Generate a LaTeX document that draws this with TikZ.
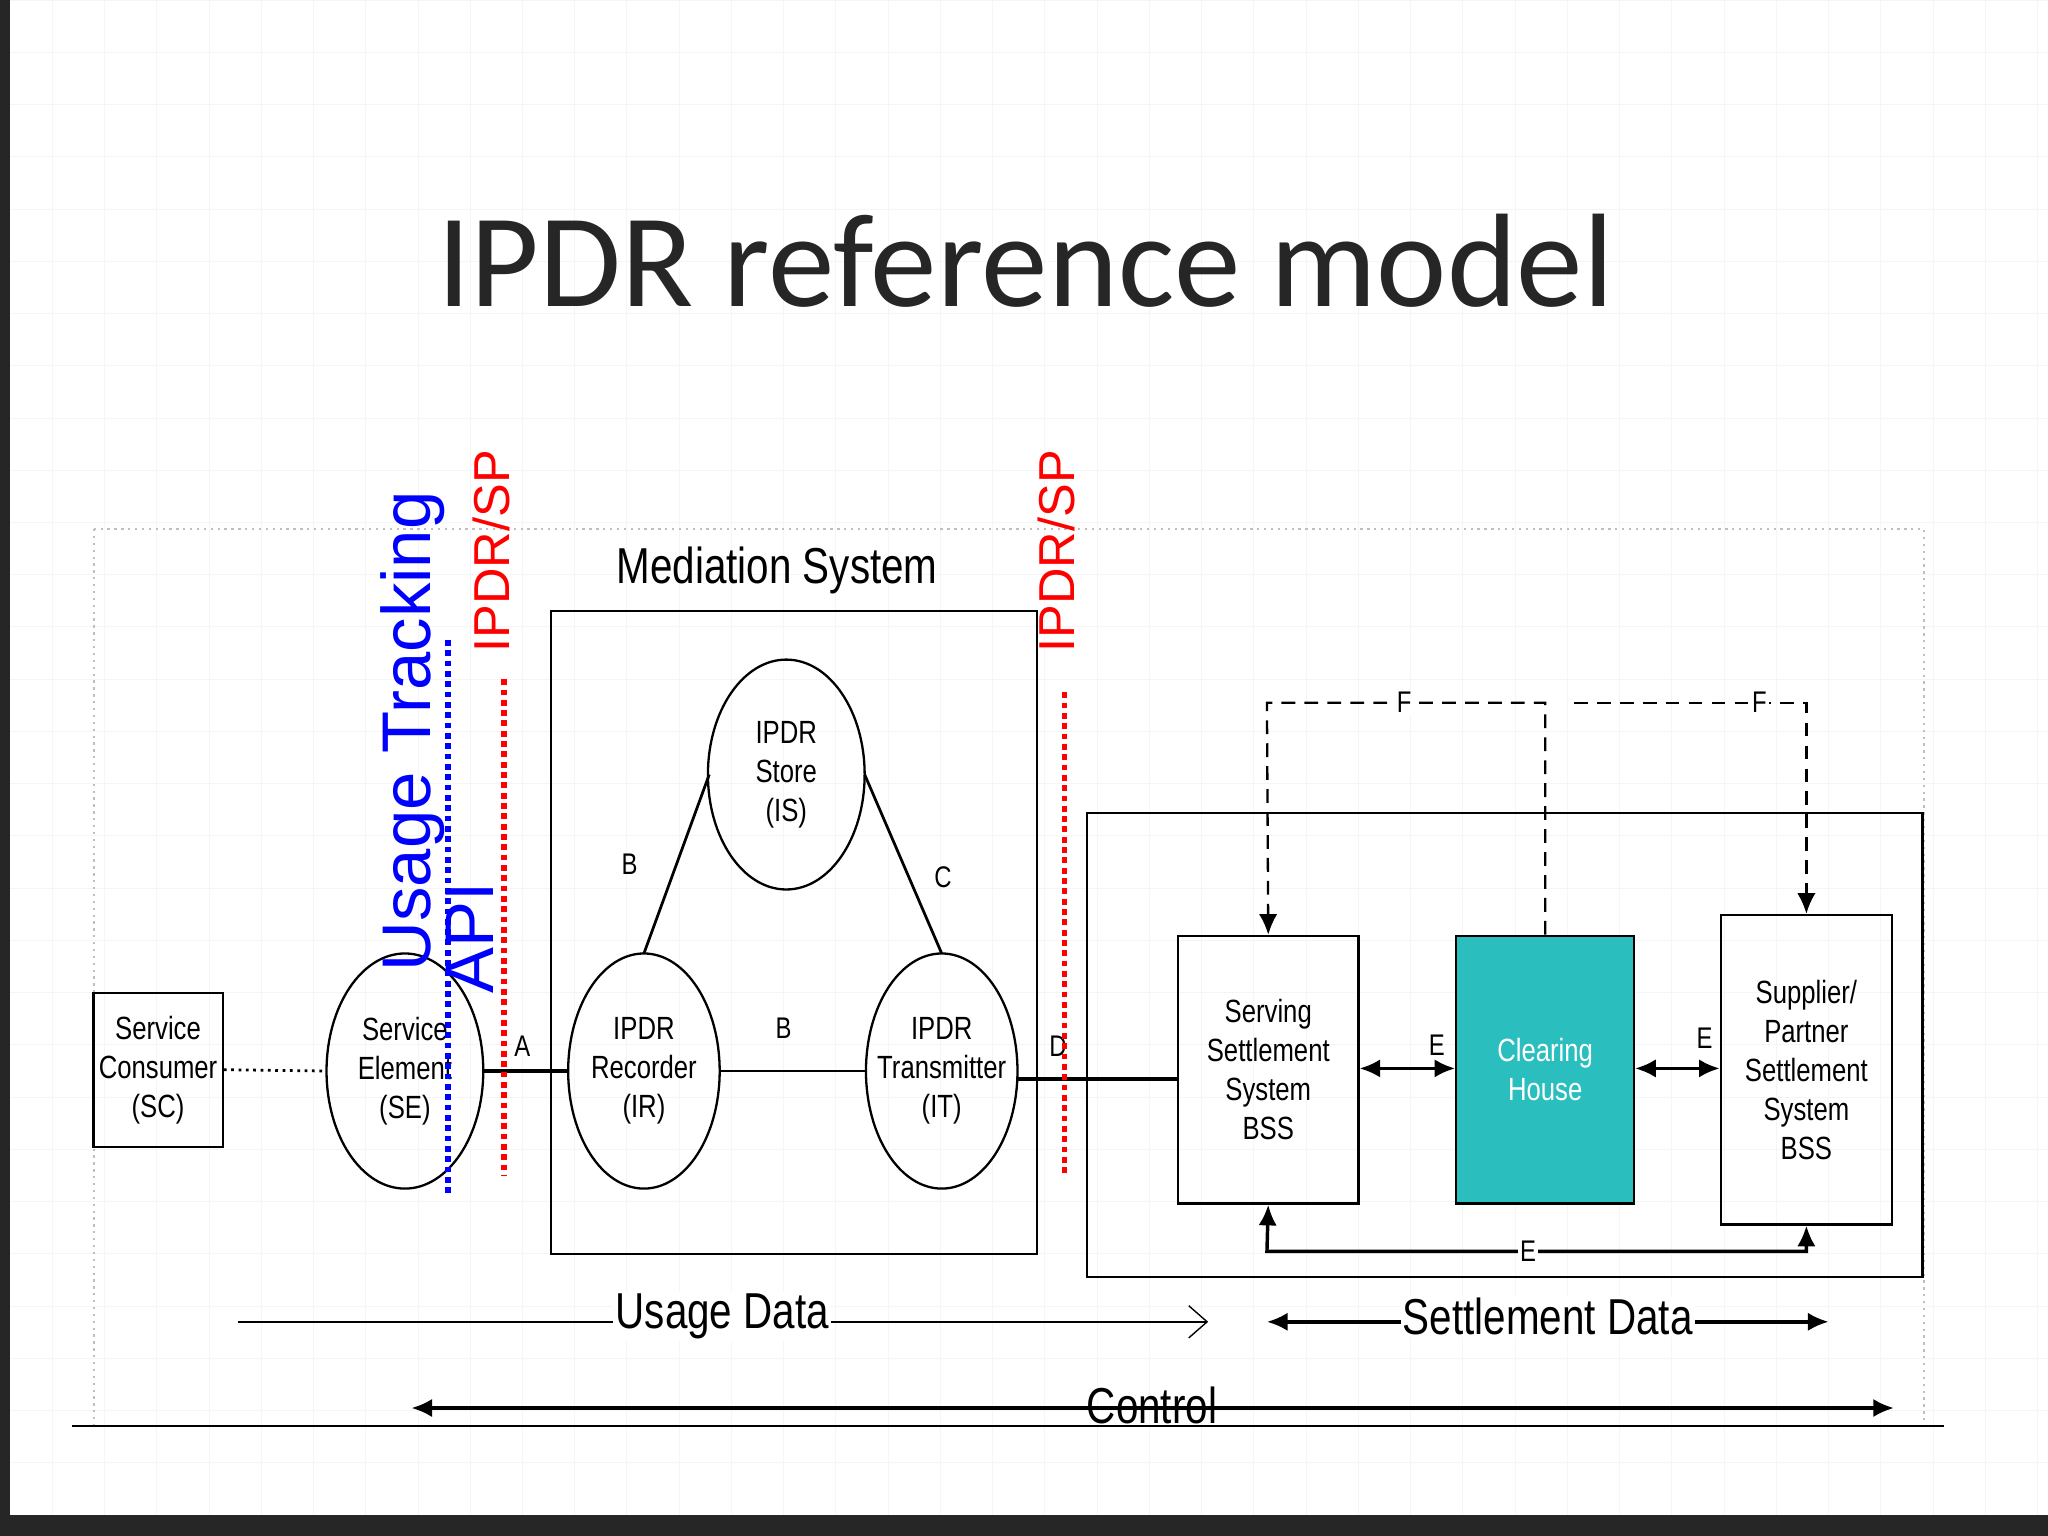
\documentclass[tikz,border=0pt]{standalone}
\usepackage{fontspec}
\setmainfont{Liberation Sans}
\newfontfamily\narrow[FakeStretch=0.8]{Liberation Sans}
\newfontfamily\titlefont{Carlito}
\usetikzlibrary{arrows.meta}
\begin{document}
\begin{tikzpicture}[x=0.02cm,y=-0.02cm,
  lbl/.style={font=\narrow\fontsize{14}{17}\selectfont, align=center, inner sep=0},
  big/.style={font=\narrow\fontsize{22}{24}\selectfont, inner sep=0},
  box/.style={draw, line width=1pt},
  conn/.style={line width=1.5pt},
  bi/.style={line width=1.5pt, {Latex[length=9pt,width=8pt]}-{Latex[length=9pt,width=8pt]}},
  dsh/.style={line width=1pt, dash pattern=on 6pt off 4pt},
  small/.style={font=\narrow\fontsize{13}{15}\selectfont, inner sep=1pt, fill=white}]
\useasboundingbox (0,0) rectangle (1568,1176);
% slide background
\fill[white] (0,0) rectangle (1568,1176);
\foreach \i in {0,40,...,1560} \draw[gray!8] (\i,0) -- (\i,1176);
\foreach \i in {0,40,...,1170} \draw[gray!8] (0,\i) -- (1568,\i);
\fill[black!85] (0,0) rectangle (8,1176);
\fill[black!85] (0,1160) rectangle (1568,1176);
\node[font=\titlefont\fontsize{58}{60}\selectfont, text=black!85] (title) at (785,200) {IPDR reference model};
% frame
\draw[gray!50, dotted, line width=1pt] (72,405) rectangle (1473,1092);
\draw[line width=1pt] (55,1092) -- (1488,1092);
% boxes
\node[box, minimum width=99*0.02cm, minimum height=118*0.02cm, lbl] (sc) at (121,819) {Service\\Consumer\\(SC)};
\node[draw, line width=1pt, minimum width=372*0.02cm, minimum height=492*0.02cm] (med) at (608,714) {};
\node[big] (medl) at (595,437) {Mediation System};
\node[draw, line width=1pt, minimum width=640*0.02cm, minimum height=355*0.02cm] (sett) at (1152,800) {};
\draw[line width=1pt] (310,820) ellipse [x radius=60, y radius=90];
\node[lbl] (se) at (310,820) {Service\\Element\\(SE)};
\draw[line width=1pt] (602,593) ellipse [x radius=60, y radius=88];
\node[lbl] (is) at (602,593) {IPDR\\Store\\(IS)};
\draw[line width=1pt] (493,820) ellipse [x radius=58, y radius=90];
\node[lbl] (ir) at (493,820) {IPDR\\Recorder\\(IR)};
\draw[line width=1pt] (721,820) ellipse [x radius=58, y radius=90];
\node[lbl] (it) at (721,820) {IPDR\\Transmitter\\(IT)};
\node[box, minimum width=138*0.02cm, minimum height=205*0.02cm, lbl] (ss) at (971,819) {Serving\\Settlement\\System\\BSS};
\node[box, fill={rgb,255:red,43;green,190;blue,190}, minimum width=136*0.02cm, minimum height=205*0.02cm, lbl, text=white] (ch) at (1183,819) {Clearing\\House};
\node[box, minimum width=131*0.02cm, minimum height=237*0.02cm, lbl] (sp) at (1383,819) {Supplier/\\Partner\\Settlement\\System\\BSS};
% connectors
\draw[line width=1.2pt, dotted] (sc.east) -- (250,820);
\draw[conn] (370,820) -- (435,820);
\node[small, fill=none] (la) at (400,801) {A};
\draw[line width=1.2pt] (493,730) -- (543,593);
\draw[line width=1.2pt] (721,730) -- (662,593);
\node[small, fill=none] (lb1) at (482,662) {B};
\node[small, fill=none] (lc) at (722,672) {C};
\draw[line width=1.2pt] (551,820) -- (663,820);
\node[small, fill=none] (lb2) at (600,787) {B};
\draw[conn] (779,826) -- (ss.west|-0,826);
\node[small, fill=none] (ld) at (810,801) {D};
\draw[bi] (ss.east|-0,818) -- (ch.west|-0,818);
\node[small, fill=none] (le1) at (1100,800) {E};
\draw[bi] (ch.east|-0,818) -- (sp.west|-0,818);
\node[small, fill=none] (le2) at (1305,795) {E};
\draw[line width=1.5pt, {Latex[length=9pt,width=8pt]}-{Latex[length=9pt,width=8pt]}] (ss.south) -- (970,958) -- (1383,958) -- (sp.south);
\node[small] (le3) at (1170,958) {E};
\draw[dsh, -{Latex[length=9pt,width=8pt]}] (ch.north) -- (1183,538) -- (970,538) -- (ss.north);
\node[small] (lf1) at (1075,538) {F};
\draw[dsh, -{Latex[length=9pt,width=8pt]}] (1205,538) -- (1383,538) -- (sp.north);
\node[small] (lf2) at (1347,538) {F};
% dotted vertical lines
\draw[blue, line width=2.5pt, dotted] (343,490) -- (343,915);
\draw[red, line width=2.5pt, dotted] (386,520) -- (386,900);
\draw[red, line width=2.5pt, dotted] (815,530) -- (815,900);
\node[rotate=90, text=blue, font=\fontsize{30}{32}\selectfont, inner sep=0] (ut) at (316,560) {Usage Tracking};
\node[rotate=90, text=blue, font=\fontsize{30}{32}\selectfont, inner sep=0] (api) at (360,718) {API};
\node[rotate=90, text=red, font=\fontsize{22}{24}\selectfont, inner sep=0] (sp1) at (376,422) {IPDR/SP};
\node[rotate=90, text=red, font=\fontsize{22}{24}\selectfont, inner sep=0] (sp2) at (809,422) {IPDR/SP};
% bottom arrows
\coordinate (u1) at (182,1012); \coordinate (u2) at (925,1012);
\draw[line width=0.6pt, -{Straight Barb[length=8pt,width=14pt]}] (u1) -- (u2);
\node[big, fill=white, inner sep=1pt] (ud) at (553,1008) {Usage Data};
\coordinate (s1) at (970,1012); \coordinate (s2) at (1400,1012);
\draw[bi] (s1) -- (s2);
\node[big, fill=white, inner sep=1pt] (sd) at (1185,1008) {Settlement Data};
\coordinate (c1) at (315,1078); \coordinate (c2) at (1450,1078);
\draw[bi] (c1) -- (c2);
\node[big, inner sep=1pt] (ctl) at (882,1076) {Control};
\end{tikzpicture}
\end{document}
